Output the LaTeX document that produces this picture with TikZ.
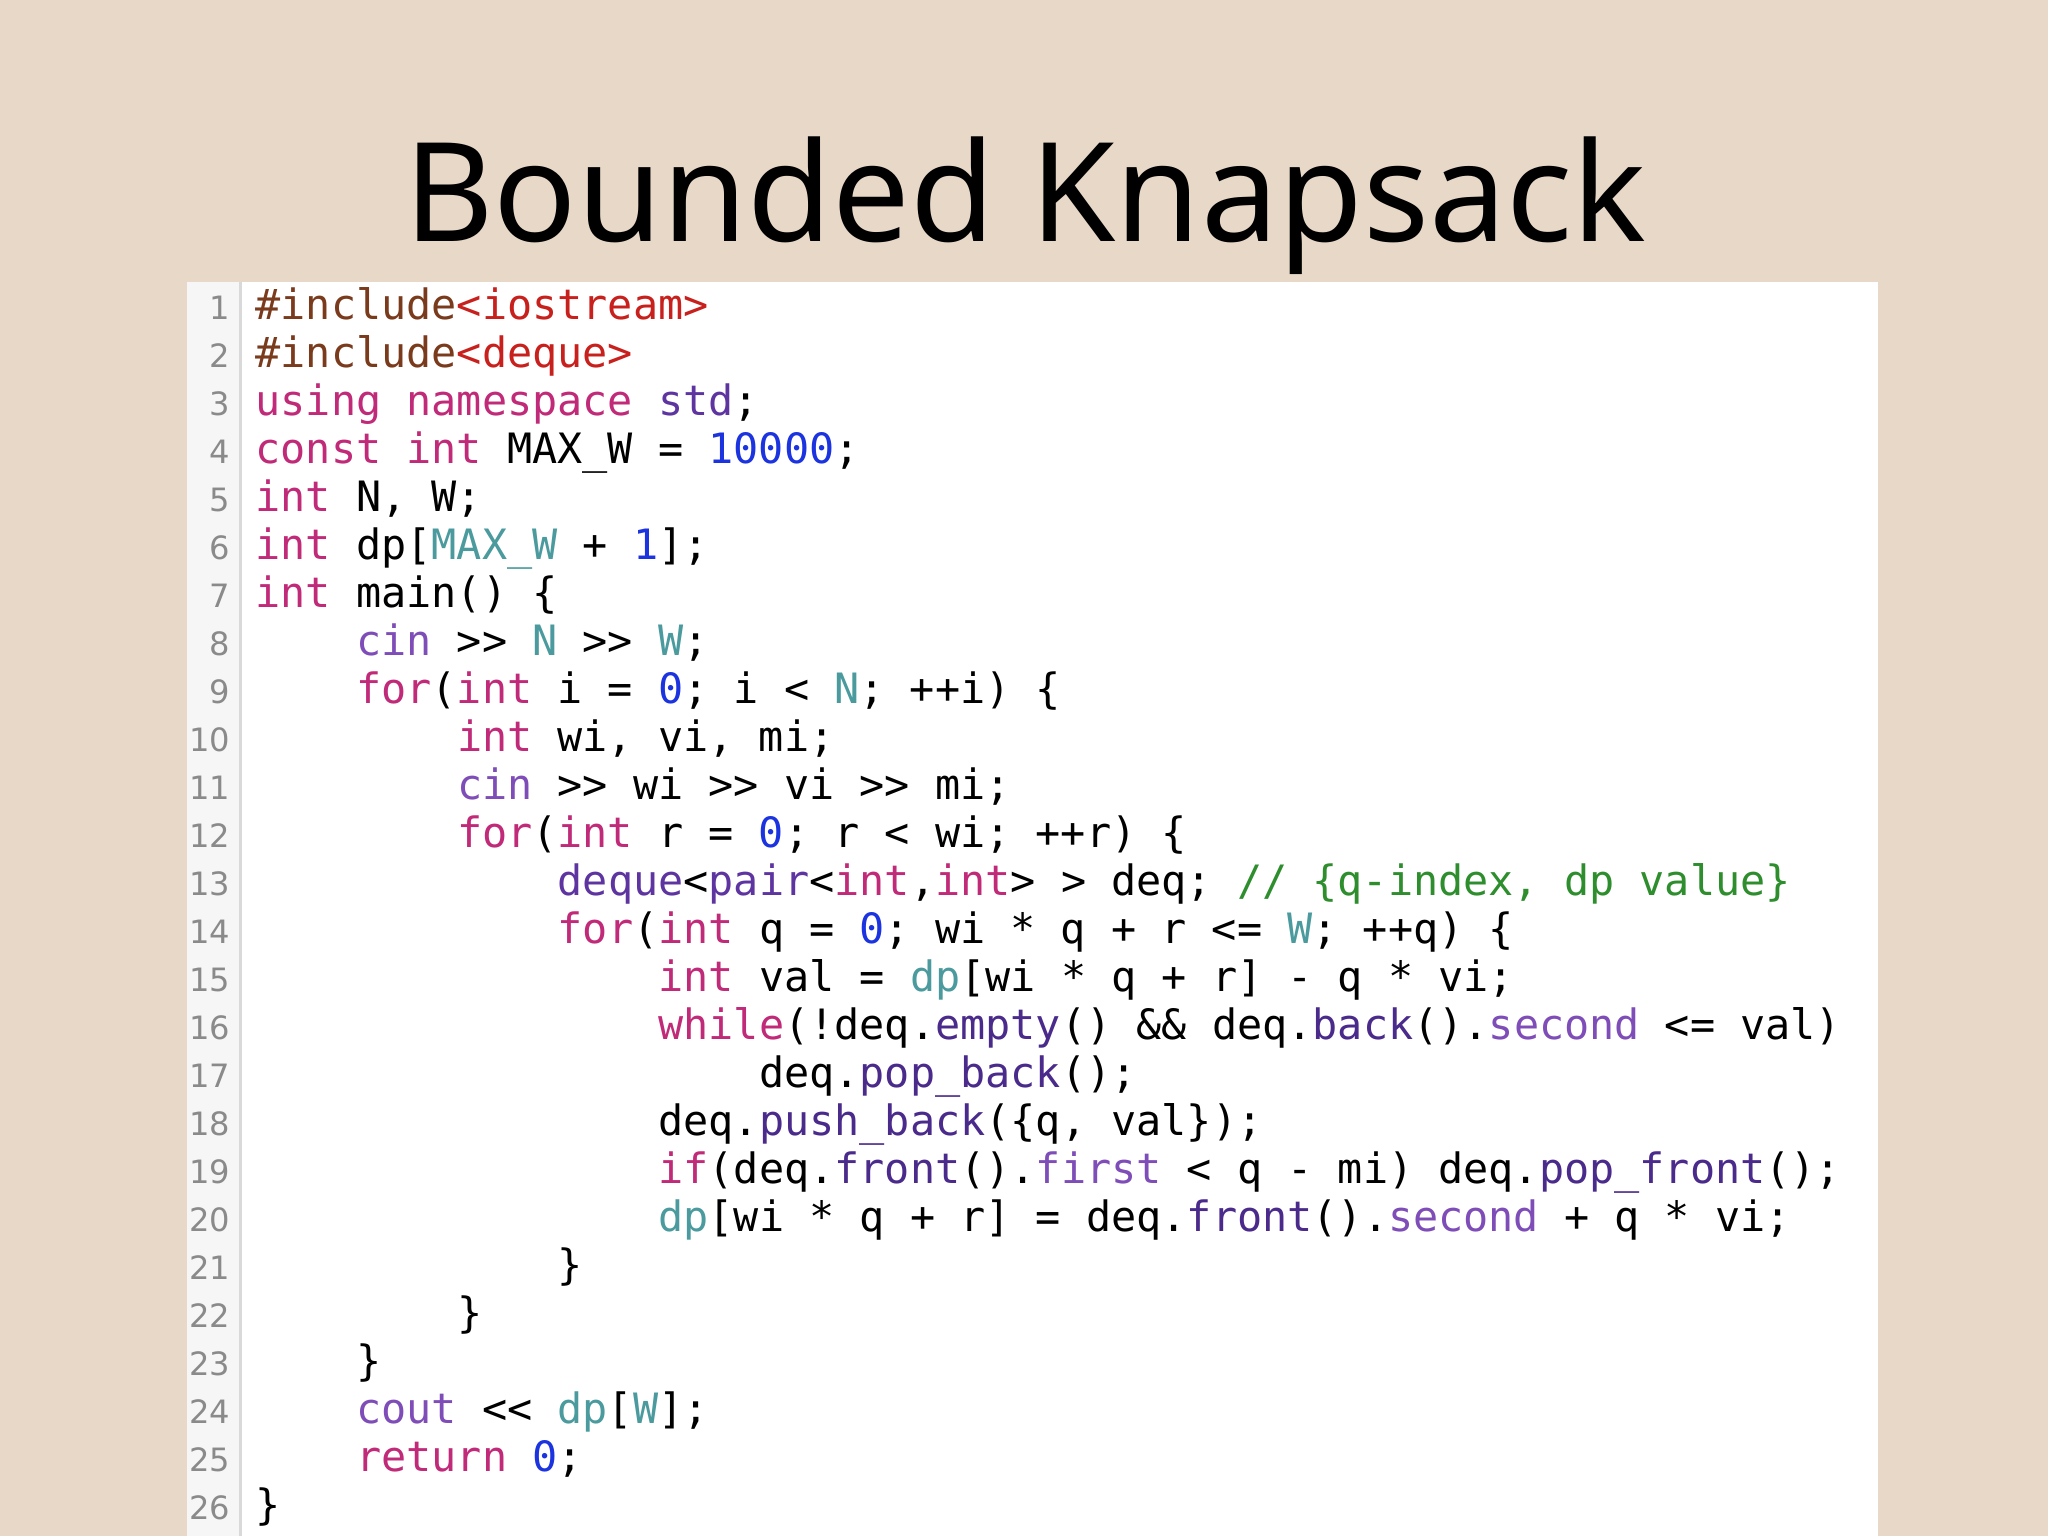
\documentclass[tikz,border=0pt]{standalone}
\usepackage{fontspec}
\setmainfont{Noto Sans}
\setmonofont{DejaVu Sans Mono}
\newfontfamily\lnfont{DejaVu Sans}
\definecolor{bg}{HTML}{E8D8C8}
\definecolor{kwc}{HTML}{C02A78}
\definecolor{ppc}{HTML}{7A3A1C}
\definecolor{ppic}{HTML}{C8201C}
\definecolor{tyc}{HTML}{5E35A0}
\definecolor{fnc}{HTML}{4A2A8A}
\definecolor{prc}{HTML}{7E4DB8}
\definecolor{usc}{HTML}{4A9A9E}
\definecolor{nmc}{HTML}{1C33E0}
\definecolor{cmc}{HTML}{2E8E2E}
\definecolor{lnc}{HTML}{8A8A8A}
\newcommand\kw[1]{\textcolor{kwc}{#1}}
\newcommand\pp[1]{\textcolor{ppc}{#1}}
\newcommand\ppi[1]{\textcolor{ppic}{#1}}
\newcommand\ty[1]{\textcolor{tyc}{#1}}
\newcommand\fn[1]{\textcolor{fnc}{#1}}
\newcommand\pr[1]{\textcolor{prc}{#1}}
\newcommand\us[1]{\textcolor{usc}{#1}}
\newcommand\nm[1]{\textcolor{nmc}{#1}}
\newcommand\cm[1]{\textcolor{cmc}{#1}}
\begin{document}
\begin{tikzpicture}[x=0.01cm,y=-0.01cm,
  code/.style={anchor=base west,inner sep=0pt,font=\ttfamily\fontsize{9.1pt}{10pt}\selectfont},
  lnum/.style={anchor=base east,inner sep=0pt,text=lnc,font=\lnfont\fontsize{7pt}{8pt}\selectfont}]
\fill[bg] (0,0) rectangle (1568,1176);
\useasboundingbox (0,0) rectangle (1568,1176);
\fill[white] (143,216) rectangle (1438,1176);
\fill[gray!7] (143,216) rectangle (184,1176);
\draw[gray!30,line width=0.6pt] (184,216) -- (184,1176);
\node[anchor=base,inner sep=0pt,font=\fontsize{30pt}{36pt}\selectfont] (title) at (785,185) {Bounded Knapsack};
\foreach \i/\lev/\txt in {
 1/0/{\pp{\#include}\ppi{<iostream>}},
 2/0/{\pp{\#include}\ppi{<deque>}},
 3/0/{\kw{using namespace} \ty{std};},
 4/0/{\kw{const int} MAX\_W = \nm{10000};},
 5/0/{\kw{int} N, W;},
 6/0/{\kw{int} dp[\us{MAX\_W} + \nm{1}];},
 7/0/{\kw{int} main() \{},
 8/1/{\pr{cin} >> \us{N} >> \us{W};},
 9/1/{\kw{for}(\kw{int} i = \nm{0}; i < \us{N}; ++i) \{},
 10/2/{\kw{int} wi, vi, mi;},
 11/2/{\pr{cin} >> wi >> vi >> mi;},
 12/2/{\kw{for}(\kw{int} r = \nm{0}; r < wi; ++r) \{},
 13/3/{\ty{deque}<\ty{pair}<\kw{int},\kw{int}> > deq; \cm{// \{q-index, dp value\}}},
 14/3/{\kw{for}(\kw{int} q = \nm{0}; wi * q + r <= \us{W}; ++q) \{},
 15/4/{\kw{int} val = \us{dp}[wi * q + r] - q * vi;},
 16/4/{\kw{while}(!deq.\fn{empty}() \&\& deq.\fn{back}().\pr{second} <= val)},
 17/5/{deq.\fn{pop\_back}();},
 18/4/{deq.\fn{push\_back}(\{q, val\});},
 19/4/{\kw{if}(deq.\fn{front}().\pr{first} < q - mi) deq.\fn{pop\_front}();},
 20/4/{\us{dp}[wi * q + r] = deq.\fn{front}().\pr{second} + q * vi;},
 21/3/{\}},
 22/2/{\}},
 23/1/{\}},
 24/1/{\pr{cout} << \us{dp}[\us{W}];},
 25/1/{\kw{return} \nm{0};},
 26/0/{\}}} {
  \node[code] (c\i) at ({195+77.1*\lev},{245+36.72*(\i-1)}) {\txt};
  \node[lnum] (n\i) at (177,{245+36.72*(\i-1)}) {\i};
}
\end{tikzpicture}
\end{document}
